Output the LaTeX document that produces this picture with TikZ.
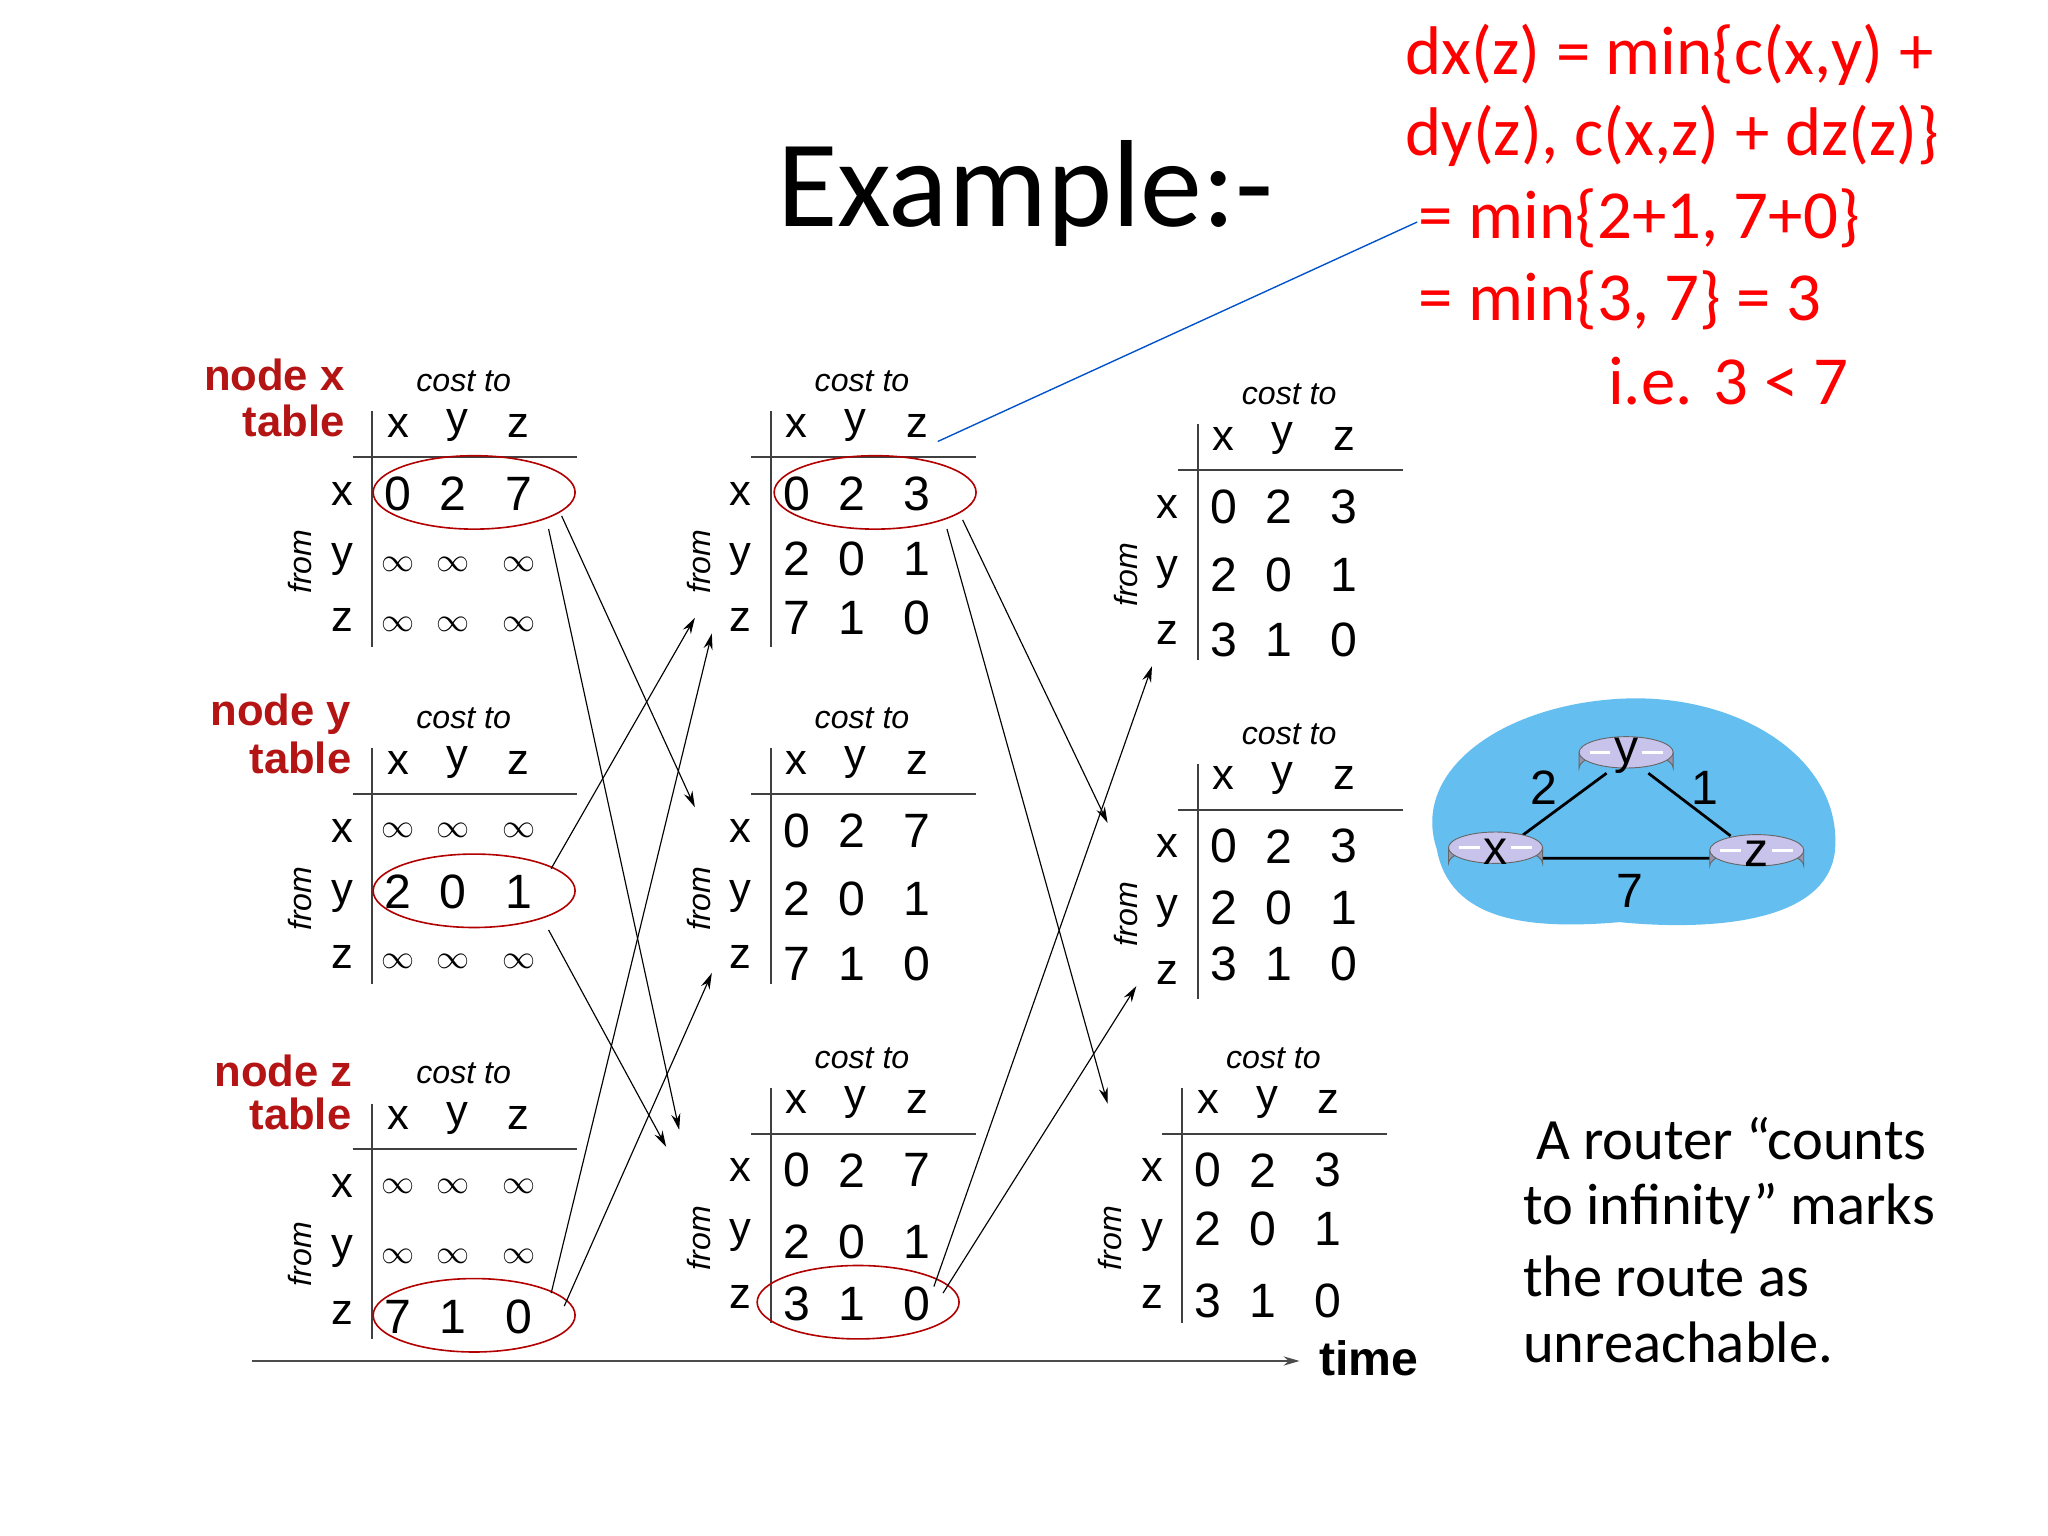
\documentclass[tikz,border=0pt]{standalone}
\usepackage{fontspec}
\setmainfont{Liberation Sans}
\newfontfamily\carl{Carlito}
\usetikzlibrary{shapes.geometric,arrows.meta}
\definecolor{nred}{RGB}{180,20,20}
\definecolor{cloud}{RGB}{100,190,240}
\definecolor{rtop}{RGB}{200,195,235}
\tikzset{
 gl/.style={line width=0.8pt,black!75},
 hd/.style={font=\fontsize{19}{19}\selectfont},
 vl/.style={font=\fontsize{21}{21}\selectfont},
 inf/.style={font=\fontsize{14}{14}\selectfont},
 ct/.style={font=\fontsize{14}{14}\selectfont\itshape},
 fr/.style={font=\fontsize{14}{14}\selectfont\itshape,rotate=90},
 nl/.style={font=\fontsize{19}{19}\selectfont\bfseries,text=nred},
 ell/.style={draw=red!70!black,line width=0.7pt,ellipse},
 arr/.style={-{Stealth[length=7pt,width=4pt]},line width=0.5pt},
 redt/.style={text=red,font=\carl\fontsize{30}{30}\selectfont,anchor=west},
 bt/.style={font=\carl\fontsize{25.5}{25.5}\selectfont,anchor=west},
 rlab/.style={font=\fontsize{21}{21}\selectfont}
}
\newcommand\tbl[2]{%
 \draw[gl] (#1,#2-35)--(#1,#2+145);
 \draw[gl] (#1-15,#2)--(#1+157,#2);
 \node[ct] at (#1+70,#2-58){cost to};
 \node[hd] at (#1+20,#2-24){x};\node[hd] at (#1+65,#2-24){y};\node[hd] at (#1+112,#2-24){z};
 \node[hd] at (#1-23,#2+28){x};\node[hd] at (#1-23,#2+78){y};\node[hd] at (#1-23,#2+125){z};
 \node[fr] at (#1-55,#2+80){from};}
\newcommand\rv[7][vl]{\node[#1] at (#2+20,#3+#4){#5};\node[#1] at (#2+62,#3+#4){#6};\node[#1] at (#2+112,#3+#4){#7};}
\newcommand\I{$\infty$}
\newcommand\router[3]{%
 \coordinate (#1) at (#2,#3);
 \fill[rtop!70!black!90,draw=black!60] (#2-36,#3-6) -- (#2-36,#3+6) arc[start angle=180,end angle=360,x radius=36,y radius=12] -- (#2+36,#3-6) -- cycle;
 \draw[fill=rtop,draw=black!60] (#2,#3-6) ellipse[x radius=36,y radius=12];
 \draw[white,line width=1.2pt] (#2-28,#3-6)--(#2-12,#3-6) (#2+12,#3-6)--(#2+28,#3-6);}
\begin{document}
\begin{tikzpicture}[x=0.02cm,y=-0.02cm]
\useasboundingbox[fill=white] (0,0) rectangle (1568,1176);
\node[font=\carl\fontsize{54}{54}\selectfont] (title) at (785,148){Example:-};
\node[redt] (r1) at (1070,42){dx(z) = min\{c(x,y) +};
\node[redt] (r2) at (1070,104){dy(z), c(x,z) + dz(z)\}};
\node[redt] (r3) at (1080,167){= min\{2+1, 7+0\}};
\node[redt] (r4) at (1080,230){= min\{3, 7\} = 3};
\node[redt] (r5) at (1225,292){i.e. 3 < 7};
\node[nl] (nx1) at (210,287){node x};\node[nl] (nx2) at (225,322){table};
\node[nl] (ny1) at (215,547){node y};\node[nl] (ny2) at (230,580){table};
\node[nl] (nz1) at (217,820){node z};\node[nl] (nz2) at (230,853){table};
\tbl{285}{350}
\rv{285}{350}{28}{0}{2}{7}
\rv[inf]{285}{350}{82}{\I}{\I}{\I}
\rv[inf]{285}{350}{128}{\I}{\I}{\I}
\tbl{285}{608}
\rv[inf]{285}{608}{28}{\I}{\I}{\I}
\rv{285}{608}{75}{2}{0}{1}
\rv[inf]{285}{608}{128}{\I}{\I}{\I}
\tbl{285}{880}
\rv[inf]{285}{880}{28}{\I}{\I}{\I}
\rv[inf]{285}{880}{82}{\I}{\I}{\I}
\rv{285}{880}{128}{7}{1}{0}
\tbl{590}{350}
\rv{590}{350}{28}{0}{2}{3}\rv{590}{350}{78}{2}{0}{1}\rv{590}{350}{123}{7}{1}{0}
\tbl{590}{608}
\rv{590}{608}{28}{0}{2}{7}\rv{590}{608}{80}{2}{0}{1}\rv{590}{608}{130}{7}{1}{0}
\tbl{590}{868}
\rv{590}{868}{28}{0}{2}{7}\rv{590}{868}{83}{2}{0}{1}\rv{590}{868}{130}{3}{1}{0}
\tbl{917}{360}
\rv{917}{360}{28}{0}{2}{3}\rv{917}{360}{80}{2}{0}{1}\rv{917}{360}{130}{3}{1}{0}
\tbl{917}{620}
\rv{917}{620}{28}{0}{2}{3}\rv{917}{620}{75}{2}{0}{1}\rv{917}{620}{118}{3}{1}{0}
\tbl{905}{868}
\rv{905}{868}{28}{0}{2}{3}\rv{905}{868}{73}{2}{0}{1}\rv{905}{868}{128}{3}{1}{0}
\node[ell,minimum width=88pt,minimum height=32pt] (e1) at (363,377){};
\node[ell,minimum width=88pt,minimum height=32pt] (e2) at (363,682){};
\node[ell,minimum width=88pt,minimum height=32pt] (e3) at (363,1007){};
\node[ell,minimum width=88pt,minimum height=32pt] (e4) at (670,377){};
\node[ell,minimum width=88pt,minimum height=32pt] (e5) at (657,997){};
\coordinate (a1) at (430,395); \coordinate (b1) at (532,618);
\coordinate (a2) at (420,405); \coordinate (b2) at (520,865);
\coordinate (a3) at (422,665); \coordinate (b3) at (532,473);
\coordinate (a4) at (420,712); \coordinate (b4) at (510,878);
\coordinate (a5) at (422,990); \coordinate (b5) at (545,485);
\coordinate (a6) at (432,1000); \coordinate (b6) at (545,745);
\coordinate (a7) at (737,398); \coordinate (b7) at (848,630);
\coordinate (a8) at (725,405); \coordinate (b8) at (848,845);
\coordinate (a9) at (715,985); \coordinate (b9) at (882,510);
\coordinate (a10) at (722,990); \coordinate (b10) at (870,755);
\foreach \i in {1,...,10}{\draw[arr] (a\i)--(b\i);}
\coordinate (t0) at (193,1042); \coordinate (t1) at (995,1042);
\draw[arr,black!70] (t0)--(t1);
\node[font=\fontsize{21}{21}\selectfont\bfseries] (time) at (1048,1040){time};
\coordinate (l0) at (718,338); \coordinate (l1) at (1085,170);
\draw[blue!60!cyan!80!black,line width=0.6pt] (l0)--(l1);
\fill[cloud] (1100,650) .. controls (1080,590) and (1150,540) .. (1240,535)
 .. controls (1330,530) and (1410,580) .. (1405,650)
 .. controls (1400,710) and (1300,712) .. (1240,706)
 .. controls (1170,712) and (1110,705) .. (1100,650) -- cycle;
\draw[line width=1.2pt] (1165,640)--(1230,592) (1262,592)--(1325,640) (1180,657)--(1310,657);
\router{rx}{1145}{655}
\router{ry}{1245}{582}
\router{rz}{1345}{657}
\node[rlab] (tx) at (1145,652){x};
\node[rlab] (ty) at (1245,579){y};
\node[rlab] (tz) at (1345,654){z};
\node[rlab] (l2) at (1182,603){2};
\node[rlab] (l1b) at (1305,603){1};
\node[rlab] (l7) at (1248,682){7};
\node[bt] (b1t) at (1170,872){A router “counts};
\node[bt] (b2t) at (1160,925){to infinity” marks};
\node[bt] (b3t) at (1160,977){the route as};
\node[bt] (b4t) at (1160,1028){unreachable.};
\end{tikzpicture}
\end{document}
